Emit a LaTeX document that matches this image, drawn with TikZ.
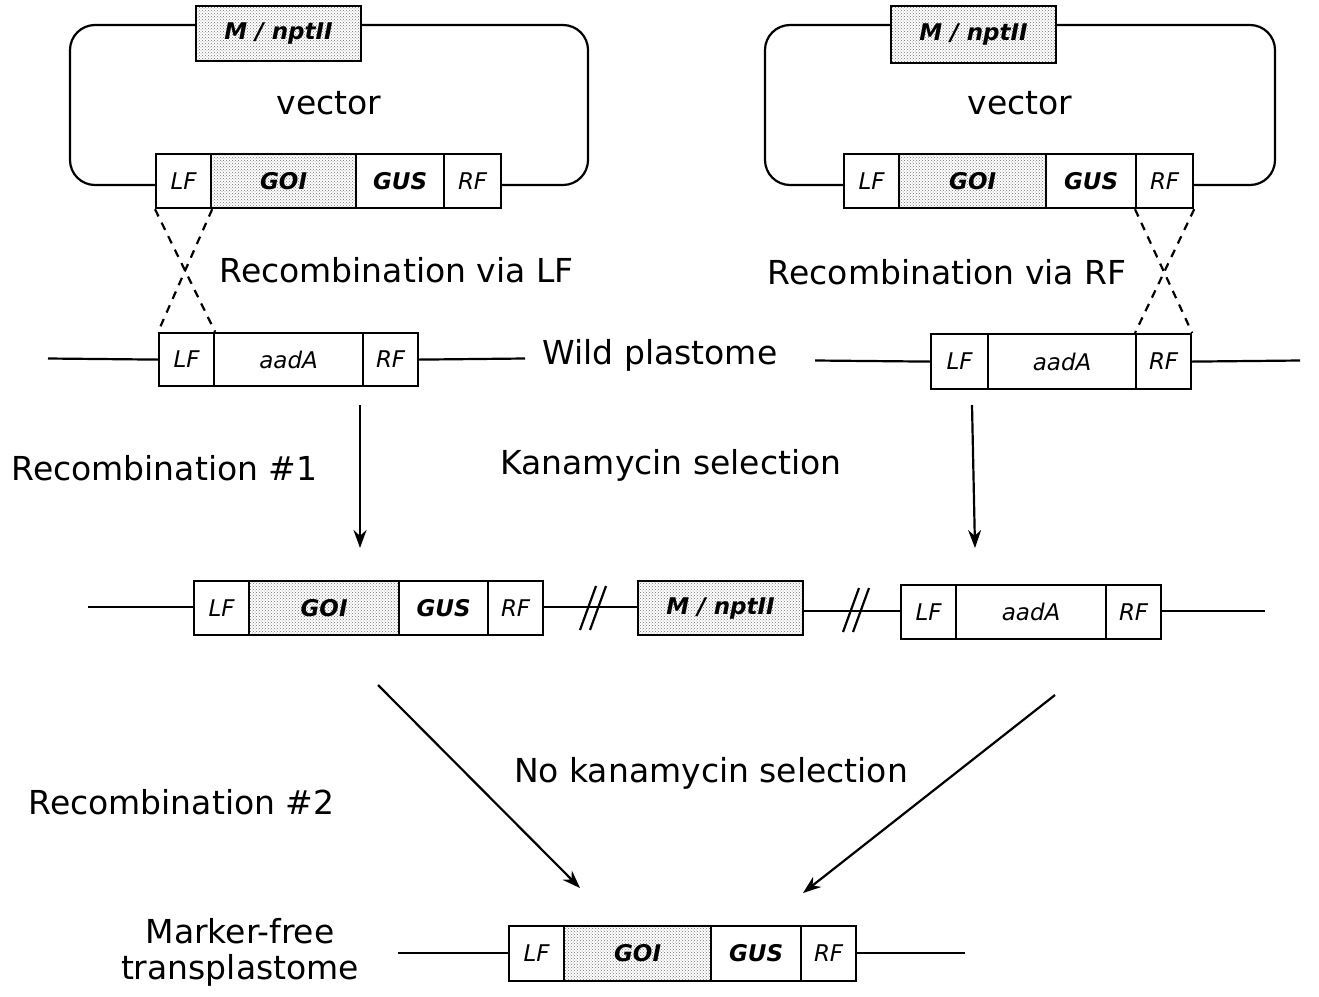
\documentclass[tikz,border=0pt]{standalone}
\usepackage{fontspec}
\setmainfont{DejaVu Sans}
\usetikzlibrary{patterns,arrows.meta}
\begin{document}
\begin{tikzpicture}[x=1pt,y=-1pt,
  seg/.style={draw,line width=2.2pt,fill=white,inner sep=0pt,font=\fontsize{22}{26}\selectfont\itshape},
  dot/.style={seg,preaction={fill=white},pattern=crosshatch dots,pattern color=black!55},
  lbl/.style={font=\fontsize{33}{38}\selectfont},
  ln/.style={line width=2.2pt},
  arr/.style={line width=2.2pt,-{Stealth[length=18pt,width=13pt]}},
  dsh/.style={line width=2.2pt,dash pattern=on 8pt off 7pt}]
\useasboundingbox (0,0) rectangle (1319,996);
\newcommand\bx[6]{\node[#1,minimum width=#4-#3,minimum height=#6-#5,anchor=north west] (#2) at (#3,#5) {};}
\newcommand\itl[2]{\node[font=\fontsize{23}{26}\selectfont\itshape] at (#1){#2};}
\newcommand\bil[2]{\node[font=\fontsize{23}{26}\selectfont\bfseries\itshape] at (#1){#2};}
% left vector
\draw[ln,rounded corners=25] (70,25) rectangle (588,185);
\bx{dot}{lm}{195}{360}{5}{60}\bil{lm}{M / nptII}
\bx{seg}{llf}{155}{210}{153}{207}\itl{llf}{LF}
\bx{dot}{lgoi}{210}{355}{153}{207}\bil{lgoi}{GOI}
\bx{seg}{lgus}{355}{443}{153}{207}\bil{lgus}{GUS}
\bx{seg}{lrf}{443}{500}{153}{207}\itl{lrf}{RF}
\node[lbl] at (329,103) {vector};
% right vector
\draw[ln,rounded corners=25] (765,25) rectangle (1275,185);
\bx{dot}{rm}{890}{1055}{5}{62}\bil{rm}{M / nptII}
\bx{seg}{rlf}{843}{898}{153}{207}\itl{rlf}{LF}
\bx{dot}{rgoi}{898}{1045}{153}{207}\bil{rgoi}{GOI}
\bx{seg}{rgus}{1045}{1135}{153}{207}\bil{rgus}{GUS}
\bx{seg}{rrf}{1135}{1192}{153}{207}\itl{rrf}{RF}
\node[lbl] at (1020,103) {vector};
% wild plastome row
\coordinate (w1) at (48,358.5); \coordinate (w2) at (525,358.5);
\coordinate (w3) at (815,360.5); \coordinate (w4) at (1300,360.5);
\bx{seg}{wlf}{158}{213}{332}{385}\itl{wlf}{LF}
\bx{seg}{waa}{213}{362}{332}{385}\itl{waa}{aadA}
\bx{seg}{wrf}{362}{417}{332}{385}\itl{wrf}{RF}
\draw[ln] (w1) -- (wlf.west) (wrf.east) -- (w2);
\bx{seg}{vlf}{930}{987}{333}{388}\itl{vlf}{LF}
\bx{seg}{vaa}{987}{1135}{333}{388}\itl{vaa}{aadA}
\bx{seg}{vrf}{1135}{1190}{333}{388}\itl{vrf}{RF}
\draw[ln] (w3) -- (vlf.west) (vrf.east) -- (w4);
\node[lbl] at (660,355) {Wild plastome};
% crossovers
\draw[dsh] (llf.south west) -- (wlf.north east);
\draw[dsh] (llf.south east) -- (wlf.north west);
\draw[dsh] (rrf.south west) -- (vrf.north east);
\draw[dsh] (rrf.south east) -- (vrf.north west);
\node[lbl,anchor=west] at (216,270) {Recombination via LF};
\node[lbl,anchor=east] at (1130,272) {Recombination via RF};
% row 3
\coordinate (a0) at (88,607); \coordinate (a9) at (1265,611);
\coordinate (am0) at (540,607); \coordinate (am1) at (905,611);
\draw[ln] (a0) -- (am0) -- (720,607) -- (720,611) -- (am1) -- (a9);
\bx{seg}{alf}{193}{248}{580}{634}\itl{alf}{LF}
\bx{dot}{agoi}{248}{398}{580}{634}\bil{agoi}{GOI}
\bx{seg}{agus}{398}{487}{580}{634}\bil{agus}{GUS}
\bx{seg}{arf}{487}{542}{580}{634}\itl{arf}{RF}
\bx{dot}{am}{637}{802}{580}{634}\bil{am}{M / nptII}
\bx{seg}{blf}{900}{955}{584}{638}\itl{blf}{LF}
\bx{seg}{baa}{955}{1105}{584}{638}\itl{baa}{aadA}
\bx{seg}{brf}{1105}{1160}{584}{638}\itl{brf}{RF}
\draw[ln] (580,630) -- (596,586) (590,630) -- (606,586);
\draw[ln] (843,632) -- (859,588) (853,632) -- (869,588);
% arrows row
\coordinate (p1) at (360,405); \coordinate (p2) at (360,548);
\coordinate (q1) at (972,405); \coordinate (q2) at (975,548);
\draw[arr] (p1) -- (p2); \draw[arr] (q1) -- (q2);
\node[lbl,anchor=west] at (8,468) {Recombination \#1};
\node[lbl] at (671,465) {Kanamycin selection};
% bottom
\coordinate (c0) at (398,953); \coordinate (c9) at (965,953);
\draw[ln] (c0) -- (c9);
\bx{seg}{clf}{508}{563}{925}{980}\itl{clf}{LF}
\bx{dot}{cgoi}{563}{710}{925}{980}\bil{cgoi}{GOI}
\bx{seg}{cgus}{710}{800}{925}{980}\bil{cgus}{GUS}
\bx{seg}{crf}{800}{855}{925}{980}\itl{crf}{RF}
\coordinate (s1) at (378,685); \coordinate (s2) at (580,888);
\coordinate (t1) at (1055,695); \coordinate (t2) at (803,893);
\draw[arr] (s1) -- (s2); \draw[arr] (t1) -- (t2);
\node[lbl] at (711,773) {No kanamycin selection};
\node[lbl,anchor=west] at (25,802) {Recombination \#2};
\node[lbl,align=center] at (240,952) {Marker-free\\[-2pt]transplastome};
\end{tikzpicture}
\end{document}
